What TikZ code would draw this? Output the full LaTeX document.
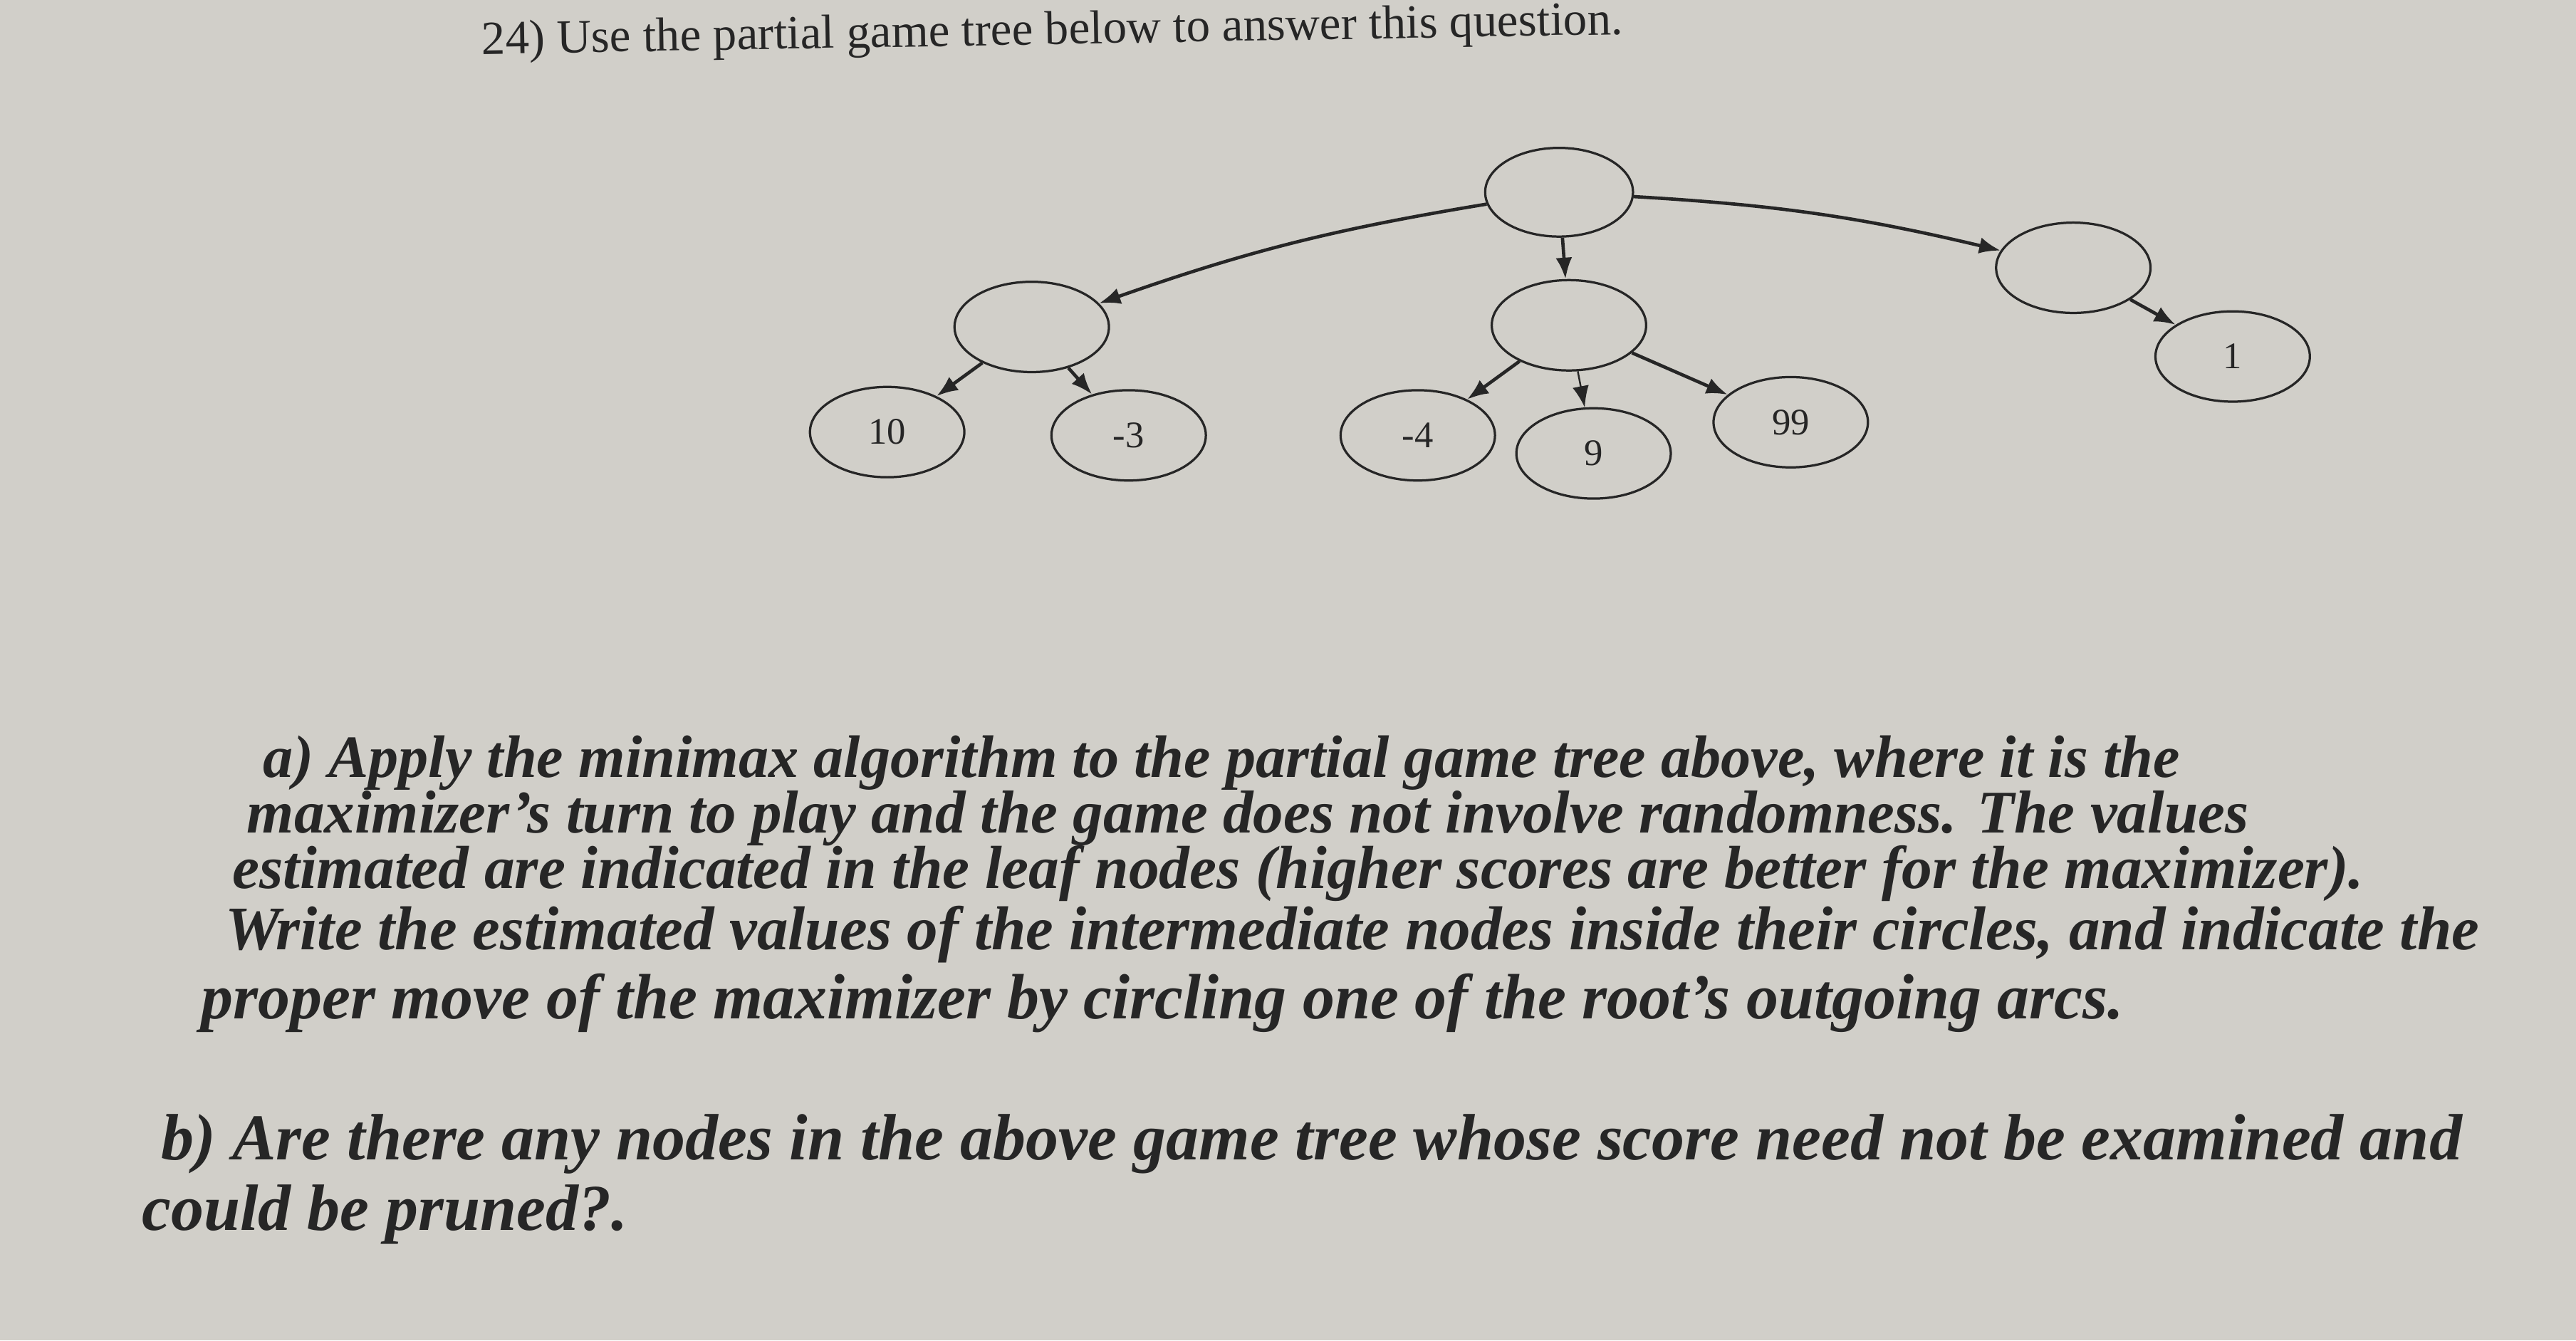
\documentclass[tikz,border=0pt]{standalone}
\usepackage{fontspec}
\setmainfont{Liberation Serif}
\usetikzlibrary{shapes.geometric, positioning, arrows.meta}

\definecolor{paper}{RGB}{209,207,201}
\definecolor{ink}{RGB}{38,38,38}

\begin{document}
\begin{tikzpicture}[>={Latex[length=2.6mm, width=2mm]}, x=0.02cm, y=-0.02cm,
  state/.style={ellipse, draw=ink, thick, minimum width=1.88cm, minimum height=1.1cm,
    inner sep=0pt, text=ink, font=\fontsize{13}{15}\selectfont},
  move/.style={->, draw=ink, line width=1.15pt},
  qline/.style={anchor=base west, inner sep=0pt, text=ink,
    font=\fontsize{#1}{#1}\selectfont\bfseries\itshape}]
  \fill[paper] (0,0) rectangle (1568,816);
  \useasboundingbox (0,0) rectangle (1568,816);

  \node[anchor=base west, inner sep=0pt, rotate=1, text=ink,
    font=\fontsize{16.5}{18}\selectfont] (title) at (293,33)
    {24) Use the partial game tree below to answer this question.};

  % game tree
  \node[state, minimum width=1.8cm, minimum height=1.08cm] (root) at (949,117) {};
  \node[state] (lft) at (628,199) {};
  \node[state] (mid) at (955,198) {};
  \node[state] (rgt) at (1262,163) {};

  \node[state] (l10) at (540,263) {10};
  \node[state] (lm3) at (687,265) {-3};
  \node[state] (lm4) at (863,265) {-4};
  \node[state] (l9) at (970,276) {9};
  \node[state] (l99) at (1090,257) {99};
  \node[state] (l1) at (1359,217) {1};

  \draw[move] (root) to[bend right=5] (lft);
  \draw[move] (root) -- (mid);
  \draw[move] (root) to[bend left=5] (rgt);
  \draw[move] (lft) -- (l10);
  \draw[move] (lft) -- (lm3);
  \draw[move] (mid) -- (lm4);
  \draw[->, draw=ink, semithick] (mid) -- (l9);
  \draw[move] (mid) -- (l99);
  \draw[move] (rgt) -- (l1);

  % questions
  \node[qline=20.8] (a1) at (160,473) {a) Apply the minimax algorithm to the partial game tree above, where it is the};
  \node[qline=21] (a2) at (150,507) {maximizer’s turn to play and the game does not involve randomness. The values};
  \node[qline=21.1] (a3) at (141,541) {estimated are indicated in the leaf nodes (higher scores are better for the maximizer).};
  \node[qline=21.5] (a4) at (137,578) {Write the estimated values of the intermediate nodes inside their circles, and indicate the};
  \node[qline=22.2] (a5) at (122,620) {proper move of the maximizer by circling one of the root’s outgoing arcs.};
  \node[qline=22.7] (b1) at (98,706) {b) Are there any nodes in the above game tree whose score need not be examined and};
  \node[qline=22.7] (b2) at (86,749) {could be pruned?.};
\end{tikzpicture}
\end{document}
